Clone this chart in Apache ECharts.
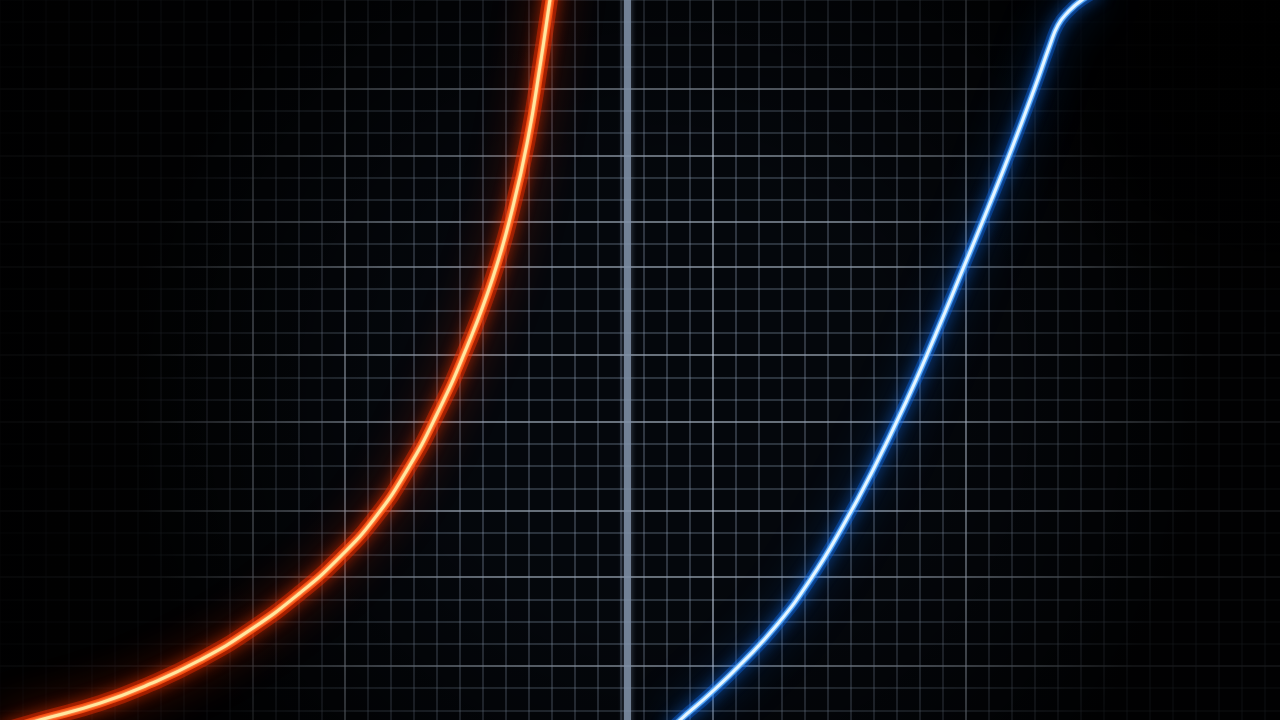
<!DOCTYPE html>
<html>
<head>
<meta charset="utf-8">
<script src="https://cdn.jsdelivr.net/npm/echarts@6/dist/echarts.min.js"></script>
<style>
html,body{margin:0;padding:0;background:#04070c;}
#c{width:1280px;height:720px;}
</style>
</head>
<body>
<div id="c"></div>
<script>
// Data (x and y in grid-cell units)
var orangeX = [-27.0, -25.26, -22.65, -20.48, -18.30, -16.13, -13.96, -12.22, -10.70, -9.30, -8.00, -6.70, -5.57, -4.70, -4.04, -3.52, -3.09, -2.83];
var orangeY = [-0.95, -0.43, 0.33, 1.19, 2.27, 3.62, 5.29, 6.91, 8.67, 10.83, 13.35, 16.37, 19.50, 22.68, 25.78, 29.03, 32.0, 33.8];
var blueX = [2.04, 2.57, 3.87, 5.30, 6.78, 8.22, 9.65, 10.96, 12.43, 13.65, 14.83, 15.96, 17.00, 18.00, 18.65, 19.00, 19.43, 20.04, 20.83];
var blueY = [-0.97, -0.43, 0.75, 2.18, 3.85, 5.87, 8.31, 10.83, 13.98, 16.86, 19.79, 22.63, 25.33, 28.08, 29.97, 30.87, 31.45, 32.0, 32.45];
var centerLineX = [0.26];
var brightGridX = [-16, -12, 4, 15];
var brightGridY = [2, 6, 9, 13, 16, 20, 22, 25, 28];
var xRange = [-28, 29];
var yRange = [-1, 33];

function zip(a, b) { return a.map(function (v, i) { return [v, b[i]]; }); }
function gridColors(range, bright) {
  var out = [];
  for (var v = range[0]; v <= range[1]; v++) {
    out.push(bright.indexOf(v) >= 0 ? 'rgba(205,218,236,0.68)' : 'rgba(150,166,188,0.38)');
  }
  return out;
}

var orange = zip(orangeX, orangeY);
var blue = zip(blueX, blueY);

function glowSeries(data, w, op, outer, mid, core, blurColor) {
  var base = { type: 'line', data: data, smooth: 0.5, symbol: 'none', silent: true };
  return [
    Object.assign({}, base, { z: 3, lineStyle: { width: w[0], color: outer, opacity: op, shadowBlur: 44, shadowColor: blurColor } }),
    Object.assign({}, base, { z: 4, lineStyle: { width: w[1], color: mid, opacity: 0.9, shadowBlur: 16, shadowColor: blurColor } }),
    Object.assign({}, base, { z: 5, lineStyle: { width: w[2], color: core, opacity: 1, shadowBlur: 3, shadowColor: core } })
  ];
}

var chart = echarts.init(document.getElementById('c'), null, { renderer: 'canvas' });
var option = {
  backgroundColor: '#04070c',
  animation: false,
  grid: { left: -23, right: -8, top: -22.2, bottom: -12.6, containLabel: false, outerBoundsMode: 'none' },
  xAxis: {
    type: 'value', min: xRange[0], max: xRange[1], interval: 1,
    axisLine: { show: false }, axisTick: { show: false }, axisLabel: { show: false },
    splitLine: { show: true, lineStyle: { width: 1.6, color: gridColors(xRange, brightGridX) } }
  },
  yAxis: {
    type: 'value', min: yRange[0], max: yRange[1], interval: 1,
    axisLine: { show: false }, axisTick: { show: false }, axisLabel: { show: false },
    splitLine: { show: true, lineStyle: { width: 1.6, color: gridColors(yRange, brightGridY) } }
  },
  graphic: [
    { type: 'rect', z: 1, silent: true, shape: { x: 0, y: 0, width: 1280, height: 720 },
      style: { fill: new echarts.graphic.RadialGradient(0.52, 0.55, 0.75, [
        { offset: 0, color: 'rgba(0,0,0,0)' },
        { offset: 0.45, color: 'rgba(0,0,0,0.05)' },
        { offset: 0.8, color: 'rgba(0,0,0,0.55)' },
        { offset: 1, color: 'rgba(0,0,0,0.85)' }
      ]) } },
    { type: 'rect', z: 1, silent: true, shape: { x: 0, y: 0, width: 1280, height: 720 },
      style: { fill: new echarts.graphic.RadialGradient(1.0, 0.05, 0.42, [
        { offset: 0, color: 'rgba(0,0,0,0.95)' },
        { offset: 0.6, color: 'rgba(0,0,0,0.7)' },
        { offset: 1, color: 'rgba(0,0,0,0)' }
      ]) } },
    { type: 'rect', z: 1, silent: true, shape: { x: 0, y: 0, width: 1280, height: 720 },
      style: { fill: new echarts.graphic.LinearGradient(0, 0, 1, 0, [
        { offset: 0, color: 'rgba(0,0,0,0.6)' },
        { offset: 0.15, color: 'rgba(0,0,0,0.15)' },
        { offset: 0.3, color: 'rgba(0,0,0,0)' },
        { offset: 1, color: 'rgba(0,0,0,0)' }
      ]) } }
  ],
  series: [
    { type: 'line', data: [], z: 2, silent: true,
      markLine: { symbol: 'none', silent: true, label: { show: false },
        lineStyle: { type: 'solid', width: 7, color: '#7f8fa6', opacity: 0.85, shadowBlur: 6, shadowColor: 'rgba(140,160,190,0.5)' },
        data: centerLineX.map(function (v) { return { xAxis: v }; }) } }
  ]
    .concat(glowSeries(orange, [16, 9, 3], 0.4, '#ff2a00', '#ff4d0d', '#ffe7a0', 'rgba(255,55,0,1)'))
    .concat(glowSeries(blue, [12, 6, 2.8], 0.35, '#0a6cff', '#2590ff', '#e6f6ff', 'rgba(20,120,255,1)'))
};
chart.setOption(option);
</script>
</body>
</html>
